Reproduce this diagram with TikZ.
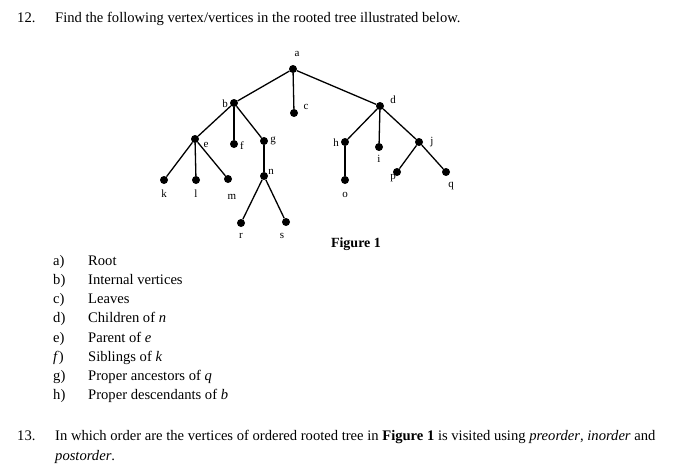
\documentclass[tikz,border=0pt]{standalone}
\usepackage{fontspec}
\setmainfont{Liberation Serif}
\tikzstyle{vertex} = [circle, fill=black, inner sep=0pt, minimum size=8pt]
\tikzstyle{lbl} = [font=\fontsize{11}{13}\selectfont, inner sep=0pt]
\tikzstyle{txt} = [anchor=base west, inner sep=0pt, font=\fontsize{14.6}{17}\selectfont]
\tikzstyle{edge} = [line width=1.3pt]

\begin{document}
\begin{tikzpicture}[x=1pt,y=-1pt]
	\useasboundingbox (0,0) rectangle (674,471);

	% Vertices
	\node[vertex] (a) at (293,69) {};
	\node[vertex] (b) at (234,103) {};
	\node[vertex] (c) at (294,113) {};
	\node[vertex] (d) at (380,106) {};
	\node[vertex] (e) at (195,139) {};
	\node[vertex] (f) at (234,144) {};
	\node[vertex] (g) at (264,141) {};
	\node[vertex] (h) at (345,142) {};
	\node[vertex] (i) at (379,147) {};
	\node[vertex] (j) at (419,142) {};
	\node[vertex] (k) at (164,180) {};
	\node[vertex] (l) at (196,180) {};
	\node[vertex] (m) at (228,179) {};
	\node[vertex] (n) at (264,176) {};
	\node[vertex] (o) at (345,180) {};
	\node[vertex] (p) at (397,172) {};
	\node[vertex] (q) at (446,172) {};
	\node[vertex] (r) at (241,223) {};
	\node[vertex] (s) at (286,222) {};

	% Edges
	\foreach \u/\v in {a/b,a/c,a/d,b/e,b/f,b/g,d/h,d/i,d/j,e/k,e/l,e/m,g/n,n/r,n/s,h/o,j/p,j/q}
		\draw[edge] (\u) -- (\v);

	% Vertex labels
	\node[lbl] (la) at (297,54) {a};
	\node[lbl] (lb) at (225,104) {b};
	\node[lbl] (lc) at (306,107) {c};
	\node[lbl] (ld) at (393,100) {d};
	\node[lbl] (le) at (206,145) {e};
	\node[lbl] (lf) at (242,146) {f};
	\node[lbl] (lg) at (273,141) {g};
	\node[lbl] (lh) at (336,143) {h};
	\node[lbl] (li) at (379,159) {i};
	\node[lbl] (lj) at (432,142) {j};
	\node[lbl] (lk) at (164,194) {k};
	\node[lbl] (ll) at (196,194) {l};
	\node[lbl] (lm) at (232,197) {m};
	\node[lbl] (ln) at (271,172) {n};
	\node[lbl] (lo) at (345,195) {o};
	\node[lbl] (lp) at (393,178) {p};
	\node[lbl] (lq) at (451,186) {q};
	\node[lbl] (lr) at (241,236) {r};
	\node[lbl] (ls) at (282,236) {s};
	\node[font=\fontsize{14}{16}\selectfont\bfseries, inner sep=0pt] (fig) at (356,244) {Figure 1};

	% Question text
	\node[txt] (q12) at (17,23) {12.};
	\node[txt] (q12t) at (55,23) {Find the following vertex/vertices in the rooted tree illustrated below.};
	\foreach \y/\l/\t in {265/a)/Root, 284/b)/Internal vertices, 303/c)/Leaves, 322/d)/Children of \textit{n},
		342/e)/Parent of \textit{e}, 361/\textit{f})/Siblings of \textit{k}, 380/g)/Proper ancestors of \textit{q},
		399/h)/Proper descendants of \textit{b}}{
		\node[txt] at (53,\y) {\l};
		\node[txt] at (88,\y) {\t};
	}
	\node[txt] (q13) at (17,440) {13.};
	\node[txt] (q13t) at (55,440) {In which order are the vertices of ordered rooted tree in \textbf{Figure 1} is visited using \textit{preorder}, \textit{inorder} and};
	\node[txt] (q13u) at (55,460) {\textit{postorder}.};
\end{tikzpicture}
\end{document}
